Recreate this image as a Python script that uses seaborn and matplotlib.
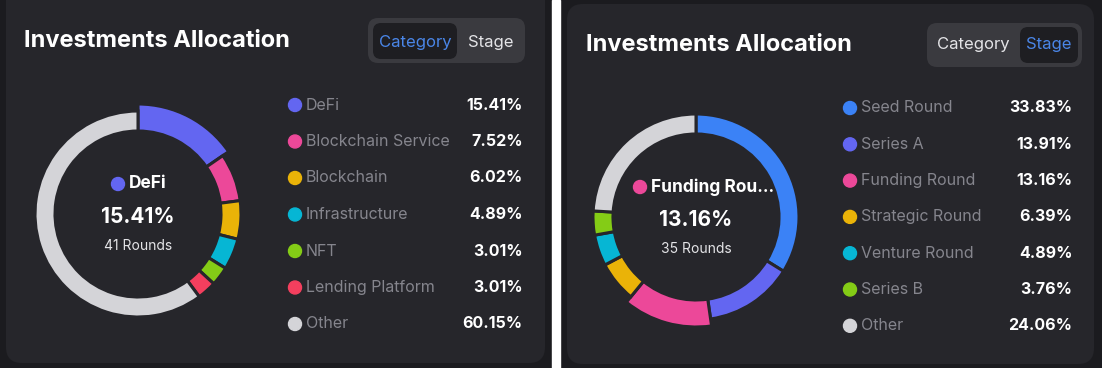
import numpy as np
import pandas as pd
import matplotlib
matplotlib.use('Agg')
import matplotlib.pyplot as plt
from matplotlib.patches import FancyBboxPatch, Rectangle, Circle
import seaborn as sns

# ---- data ----
cat_labels = ['DeFi', 'Blockchain Service', 'Blockchain', 'Infrastructure', 'NFT',
              'Lending Platform', 'Other']
cat_values = [15.41, 7.52, 6.02, 4.89, 3.01, 3.01, 60.15]
cat_colors = ['#6366f1', '#ec4899', '#eab308', '#06b6d4', '#84cc16', '#f43f5e', '#d4d4d8']
cat_rounds = 41

stage_labels = ['Seed Round', 'Series A', 'Funding Round', 'Strategic Round',
                'Venture Round', 'Series B', 'Other']
stage_values = [33.83, 13.91, 13.16, 6.39, 4.89, 3.76, 24.06]
stage_colors = ['#3b82f6', '#6366f1', '#ec4899', '#eab308', '#06b6d4', '#84cc16', '#d4d4d8']
stage_rounds = 35

BG = '#1b1b1f'
PANEL = '#26262b'
W, H = 1102, 368

sns.set_style("white")
plt.rcParams['font.family'] = ['Inter', 'DejaVu Sans']

fig = plt.figure(figsize=(W / 100, H / 100), dpi=100, facecolor=BG)
bg = fig.add_axes([0, 0, 1, 1])
bg.set_xlim(0, W)
bg.set_ylim(H, 0)
bg.axis('off')

bg.add_patch(Rectangle((552, 0), 8, H, color='white', zorder=1))


def draw_panel(box, title_xy, labels, values, colors, sel, rounds, sel_name,
               dot_x, center, outer, inner, tcx, ty, active, legend):
    x0, x1, y0, y1 = box
    bg.add_patch(FancyBboxPatch((x0, y0), x1 - x0, y1 - y0,
                                boxstyle='round,pad=0,rounding_size=16',
                                fc=PANEL, ec='none', zorder=1))
    # title
    bg.text(title_xy[0], title_xy[1], 'Investments Allocation',
            color='white', fontsize=17, fontweight='bold', va='center', ha='left')

    # toggle
    ox0, ox1, oy0, oy1 = outer
    ix0, ix1, iy0, iy1 = inner
    bg.add_patch(FancyBboxPatch((ox0, oy0), ox1 - ox0, oy1 - oy0,
                                boxstyle='round,pad=0,rounding_size=10',
                                fc='#3a3a3f', ec='none', zorder=2))
    bg.add_patch(FancyBboxPatch((ix0, iy0), ix1 - ix0, iy1 - iy0,
                                boxstyle='round,pad=0,rounding_size=8',
                                fc='#1e1e22', ec='none', zorder=3))
    for k, name in enumerate(['Category', 'Stage']):
        bg.text(tcx[k], ty, name, color='#4a86e8' if active == k else '#e4e4e7',
                fontsize=12, ha='center', va='center', zorder=4)

    # legend rows
    lx, vx, ly0, dy = legend
    for i, (lab, val, col) in enumerate(zip(labels, values, colors)):
        yy = ly0 + i * dy
        bg.add_patch(Circle((lx, yy), 6.5, color=col, zorder=3))
        bg.text(lx + 11, yy, lab, color='#85858d', fontsize=11.5,
                ha='left', va='center', zorder=3)
        bg.text(vx, yy, f'{val:.2f}%', color='white', fontsize=11.5,
                fontweight='bold', ha='right', va='center', zorder=3)

    # donut
    cx, cy = center
    S = 130
    ax = fig.add_axes([(cx - S) / W, (H - cy - S) / H, 2 * S / W, 2 * S / H])
    wedges, _ = ax.pie(values, colors=colors, startangle=90, counterclock=False,
                       radius=103,
                       wedgeprops=dict(width=20, edgecolor=PANEL, linewidth=2.2))
    wedges[sel].set_radius(110)
    wedges[sel].set_width(27)
    ax.set_xlim(-S, S)
    ax.set_ylim(-S, S)
    ax.axis('off')

    ax.add_patch(Circle((dot_x, 30), 6.5, color=colors[sel]))
    ax.text(dot_x + 11, 30, sel_name, color='white', fontsize=12.5,
            fontweight='bold', ha='left', va='center')
    ax.text(0, -3, f'{values[sel]:.2f}%', color='white', fontsize=15,
            fontweight='bold', ha='center', va='center')
    ax.text(0, -32, f'{rounds} Rounds', color='#e4e4e7', fontsize=10,
            ha='center', va='center')


draw_panel((6, 545, -20, 363), (24, 41), cat_labels, cat_values, cat_colors, 0,
           cat_rounds, 'DeFi', -20, (138, 214),
           (368, 525, 18, 63), (373, 457, 23, 59), (415, 491), 42, 0,
           (295, 522.5, 105, 36.5))

draw_panel((567, 1094, 4, 364), (586, 45), stage_labels, stage_values,
           stage_colors, 2, stage_rounds, 'Funding Rou...', -56, (696, 217),
           (927, 1082, 23, 67), (1020, 1078, 27, 63), (973, 1049), 45, 1,
           (850, 1072.5, 108, 36.3))

fig.savefig('out.png', dpi=100, facecolor=BG)
